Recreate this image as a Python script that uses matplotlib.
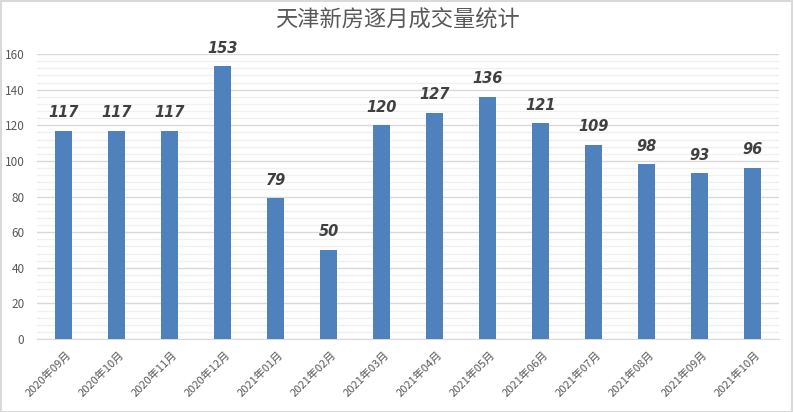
import matplotlib
matplotlib.use("Agg")
import matplotlib.pyplot as plt
from matplotlib.ticker import MultipleLocator
from matplotlib.patches import Rectangle
from matplotlib.transforms import ScaledTranslation

plt.rcParams['font.family'] = ['Noto Sans CJK SC', 'DejaVu Sans']

title = "天津新房逐月成交量统计"
months = ["2020年09月", "2020年10月", "2020年11月", "2020年12月", "2021年01月",
          "2021年02月", "2021年03月", "2021年04月", "2021年05月", "2021年06月",
          "2021年07月", "2021年08月", "2021年09月", "2021年10月"]
values = [117, 117, 117, 153, 79, 50, 120, 127, 136, 121, 109, 98, 93, 96]

fig = plt.figure(figsize=(7.94, 4.12), dpi=100)
ax = fig.add_axes([37/794, 1-339/412, 742/794, 285/412])

x = range(len(months))
bars = ax.bar(x, values, width=0.32, color="#4f81bd", zorder=3)
ax.set_xlim(-0.5, len(months)-0.5)
ax.set_ylim(0, 160)
ax.yaxis.set_major_locator(MultipleLocator(20))
ax.yaxis.set_minor_locator(MultipleLocator(4))
ax.grid(axis='y', which='major', color='#d9d9d9', linewidth=1.0, zorder=0)
ax.grid(axis='y', which='minor', color='#f0f0f0', linewidth=1.0, zorder=0)
ax.set_axisbelow(True)
for s in ['top', 'right', 'left']:
    ax.spines[s].set_visible(False)
ax.spines['bottom'].set_color('#d9d9d9')
ax.tick_params(axis='y', which='both', length=0, labelsize=8.5, labelcolor='#595959', pad=9)
ax.tick_params(axis='x', length=0, labelsize=8, labelcolor='#595959', pad=10)
ax.set_xticks(list(x))
ax.set_xticklabels(months, rotation=45, ha='right', va='center', rotation_mode='anchor')
offset = ScaledTranslation(6/100, 0, fig.dpi_scale_trans)
for lbl in ax.get_xticklabels():
    lbl.set_transform(lbl.get_transform() + offset)

for xi, v in zip(x, values):
    ax.text(xi, v + 6, f"{v}", ha='center', va='bottom', fontsize=10.5,
            fontweight='bold', fontstyle='italic', color='#404040',
            family=['DejaVu Sans'], clip_on=False)

fig.text(0.5, 1-20/412, title, ha='center', va='center', fontsize=16, color='#595959')
fig.patches.append(Rectangle((0.001, 0.001), 0.997, 0.996, transform=fig.transFigure,
                             fill=False, edgecolor='#d9d9d9', linewidth=1.5))
fig.savefig("out.png", dpi=100)
